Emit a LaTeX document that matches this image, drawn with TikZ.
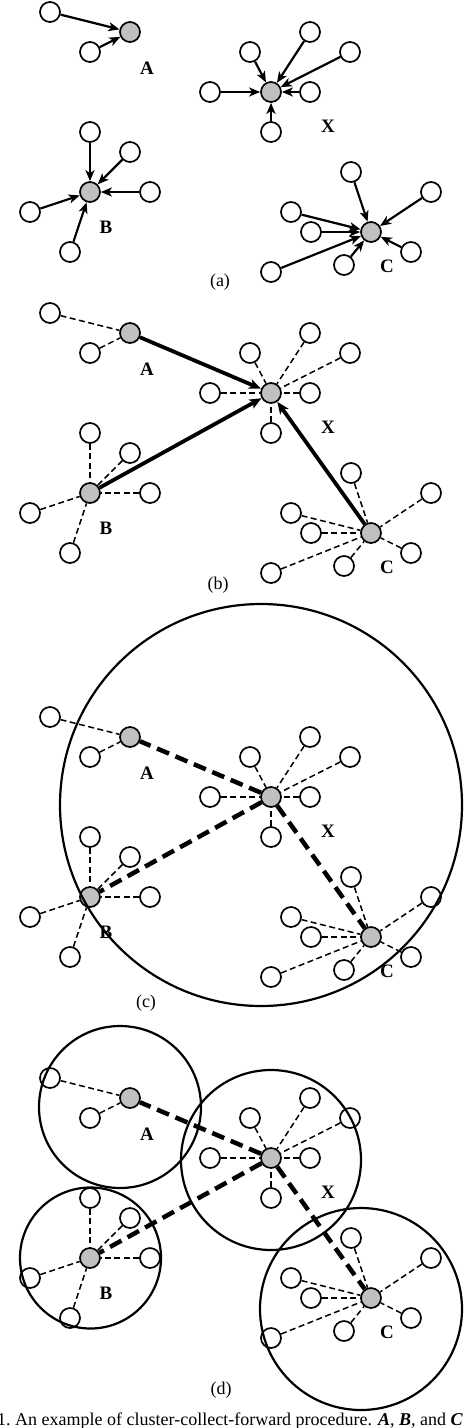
\documentclass[tikz,border=0pt]{standalone}
\usepackage{fontspec}
\setmainfont{Liberation Serif}
\usetikzlibrary{arrows.meta}
\definecolor{headgray}{RGB}{192,192,192}
\tikzset{
  nd/.style={circle, draw, line width=1.7pt, minimum size=20pt, inner sep=0pt, fill=white},
  hd/.style={nd, fill=headgray},
  lbl/.style={font=\bfseries\fontsize{19}{19}\selectfont, inner sep=0pt},
  plbl/.style={font=\fontsize{18}{18}\selectfont, inner sep=0pt},
  arr/.style={line width=2.2pt, -{Stealth[length=11pt,width=9pt,inset=3pt]}},
  thin dash/.style={line width=1.5pt, dash pattern=on 6pt off 3.5pt},
  fwd/.style={line width=3.8pt, -{Stealth[length=12pt,width=10pt,inset=3pt]}},
  thick dash/.style={line width=4.5pt, dash pattern=on 13pt off 7pt},
  ring/.style={line width=2.2pt}
}
\newcommand\placenodes[2]{%
  \begin{scope}[shift={(0,#2)}]
    \node[nd] (#1A1) at (50,313) {};
    \node[nd] (#1A2) at (90,353) {};
    \node[hd] (#1A)  at (130,333) {};
    \node[nd] (#1X1) at (210,393) {};
    \node[nd] (#1X2) at (250,353) {};
    \node[nd] (#1X3) at (310,333) {};
    \node[nd] (#1X4) at (350,353) {};
    \node[nd] (#1X5) at (310,393) {};
    \node[nd] (#1X6) at (271,433) {};
    \node[hd] (#1X)  at (271,393) {};
    \node[nd] (#1B1) at (90,433) {};
    \node[nd] (#1B2) at (130,453) {};
    \node[nd] (#1B3) at (150,493) {};
    \node[nd] (#1B4) at (30,513) {};
    \node[nd] (#1B5) at (70,553) {};
    \node[hd] (#1B)  at (90,493) {};
    \node[nd] (#1C1) at (351,473) {};
    \node[nd] (#1C2) at (431,493) {};
    \node[nd] (#1C3) at (291,513) {};
    \node[nd] (#1C4) at (311,533) {};
    \node[nd] (#1C5) at (411,553) {};
    \node[nd] (#1C6) at (344,566) {};
    \node[nd] (#1C7) at (271,573) {};
    \node[hd] (#1C)  at (371,533) {};
    \node[lbl] (#1lA) at (147,369) {A};
    \node[lbl] (#1lX) at (328,427) {X};
    \node[lbl] (#1lB) at (106,528) {B};
    \node[lbl] (#1lC) at (387,567) {C};
  \end{scope}}
\newcommand\clusteredges[2]{% #1 prefix, #2 style
  \foreach \n in {1,2} \draw[#2] (#1A\n) -- (#1A);
  \foreach \n in {1,...,6} \draw[#2] (#1X\n) -- (#1X);
  \foreach \n in {1,...,5} \draw[#2] (#1B\n) -- (#1B);
  \foreach \n in {1,...,7} \draw[#2] (#1C\n) -- (#1C);}
\begin{document}
\begin{tikzpicture}[x=1pt,y=-1pt]
\useasboundingbox (0,0) rectangle (474,1428);
% panel (a)
\placenodes{a}{-301}
\clusteredges{a}{arr}
\node[plbl] (pa) at (220,282) {(a)};
% panel (b)
\placenodes{b}{0}
\clusteredges{b}{thin dash}
\draw[fwd] (bA) -- (bX);
\draw[fwd] (bB) -- (bX);
\draw[fwd] (bC) -- (bX);
\node[plbl] (pb) at (218,585) {(b)};
% panel (c)
\placenodes{c}{404}
\clusteredges{c}{thin dash}
\draw[thick dash] (cX) -- (cA);
\draw[thick dash] (cX) -- (cB);
\draw[thick dash] (cX) -- (cC);
\draw[ring] (261,805) circle[radius=201];
\node[plbl] (pc) at (146,1003) {(c)};
% panel (d)
\placenodes{d}{765}
\clusteredges{d}{thin dash}
\draw[thick dash] (dX) -- (dA);
\draw[thick dash] (dX) -- (dB);
\draw[thick dash] (dX) -- (dC);
\draw[ring] (120,1107) circle[radius=81];
\draw[ring] (271,1160) circle[radius=90];
\draw[ring] (90.5,1258) circle[radius=70.5];
\draw[ring] (361,1309) circle[radius=101];
\node[plbl] (pd) at (221,1390) {(d)};
% caption
\node[anchor=base west, inner sep=0pt, font=\fontsize{18}{18}\selectfont] (cap) at (-3,1425)
  {1.\ An example of cluster-collect-forward procedure. \textbf{\textit{A}}, \textbf{\textit{B}}, and \textbf{\textit{C}}};
\end{tikzpicture}
\end{document}
